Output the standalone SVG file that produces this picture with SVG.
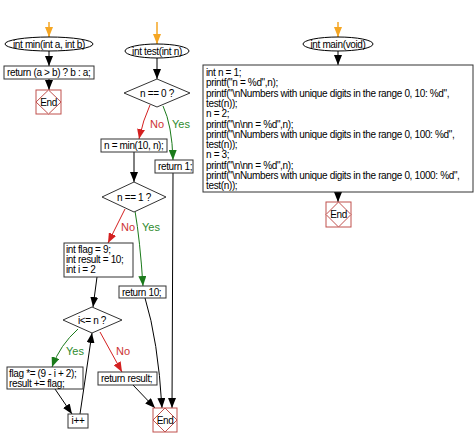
<svg xmlns="http://www.w3.org/2000/svg" width="474" height="444" viewBox="0 0 474 444">
<defs>
<style>
text{font-family:"Liberation Sans",Arial,sans-serif;font-size:10px;letter-spacing:-0.35px;fill:#000}
.c{text-anchor:middle}
.box{fill:#fff;stroke:#333;stroke-width:1}
.ell{fill:#fff;stroke:#000;stroke-width:1}
.dia{fill:#fff;stroke:#333;stroke-width:1}
.endb{fill:#fff;stroke:#c0504d;stroke-width:1}
.e{fill:none;stroke:#000;stroke-width:1}
.r{fill:none;stroke:#d42020;stroke-width:1}
.g{fill:none;stroke:#1a7a1a;stroke-width:1}
.o{fill:none;stroke:#f5a623;stroke-width:1.5}
.lbl{font-size:11px;letter-spacing:0}
.no{fill:#cc3333}
.yes{fill:#2e8b2e}
</style>
<marker id="ab" markerUnits="userSpaceOnUse" markerWidth="10" markerHeight="8" refX="10" refY="4" orient="auto"><path d="M0,0L10,4L0,8z" fill="#000"/></marker>
<marker id="ar" markerUnits="userSpaceOnUse" markerWidth="10" markerHeight="8" refX="10" refY="4" orient="auto"><path d="M0,0L10,4L0,8z" fill="#d42020"/></marker>
<marker id="ag" markerUnits="userSpaceOnUse" markerWidth="10" markerHeight="8" refX="10" refY="4" orient="auto"><path d="M0,0L10,4L0,8z" fill="#1a7a1a"/></marker>
<marker id="ao" markerUnits="userSpaceOnUse" markerWidth="10" markerHeight="8" refX="10" refY="4" orient="auto"><path d="M0,0L10,4L0,8z" fill="#f5a623"/></marker>
</defs>
<g id="connectors">
<path class="o" d="M49,22L49,37" marker-end="url(#ao)"/>
<path class="o" d="M157,22L157,44" marker-end="url(#ao)"/>
<path class="o" d="M338,22L338,37" marker-end="url(#ao)"/>
<path class="e" d="M49,51L49,66" marker-end="url(#ab)"/>
<path class="e" d="M49,79L49,90" marker-end="url(#ab)"/>
<path class="e" d="M157,58L157,79" marker-end="url(#ab)"/>
<path class="r" d="M150,105Q143,120 139,139" marker-end="url(#ar)"/>
<path class="g" d="M163,106Q172,125 173,160" marker-end="url(#ag)"/>
<path class="e" d="M134,152L134,182" marker-end="url(#ab)"/>
<path class="r" d="M125,209L108,243" marker-end="url(#ar)"/>
<path class="g" d="M135,211Q140,240 143,286" marker-end="url(#ag)"/>
<path class="e" d="M97,277L93,307" marker-end="url(#ab)"/>
<path class="g" d="M78,329Q60,345 52,367" marker-end="url(#ag)"/>
<path class="r" d="M100,332L122,372" marker-end="url(#ar)"/>
<path class="e" d="M55,389L72,414" marker-end="url(#ab)"/>
<path class="e" d="M80,414L92,333" marker-end="url(#ab)"/>
<path class="e" d="M133,385L155,408" marker-end="url(#ab)"/>
<path class="e" d="M145,298Q158,340 162,408" marker-end="url(#ab)"/>
<path class="e" d="M173,173L172,408" marker-end="url(#ab)"/>
<path class="e" d="M338,51L338,65" marker-end="url(#ab)"/>
<path class="e" d="M338,192L338,202" marker-end="url(#ab)"/>
<text class="c lbl no" x="157" y="128">No</text>
<text class="c lbl yes" x="181" y="128">Yes</text>
<text class="c lbl no" x="128" y="231">No</text>
<text class="c lbl yes" x="151" y="231">Yes</text>
<text class="c lbl yes" x="75" y="355">Yes</text>
<text class="c lbl no" x="123" y="355">No</text>
</g>
<g id="min_start"><ellipse class="ell" cx="49" cy="44" rx="44" ry="7"/><text class="c" x="49" y="48">int min(int a, int b)</text></g>
<g id="min_return"><rect class="box" x="4" y="66" width="90" height="13"/><text x="7" y="76">return (a &gt; b) ? b : a;</text></g>
<g id="min_end"><rect class="endb" x="36" y="90" width="25" height="24"/><path class="endb" d="M48.5,90L61,102L48.5,114L36,102z"/><text class="c" x="48.5" y="106">End</text></g>

<g id="test_start"><ellipse class="ell" cx="157" cy="51" rx="32" ry="7"/><text class="c" x="157" y="55">int test(int n)</text></g>
<g id="test_if0"><path class="dia" d="M157,79L190,93L157,107L124,93z"/><text class="c" x="157" y="97">n == 0 ?</text></g>
<g id="test_min"><rect class="box" x="101" y="139" width="66" height="13"/><text x="104" y="149">n = min(10, n);</text></g>
<g id="test_ret1"><rect class="box" x="155" y="160" width="38" height="13"/><text x="158" y="170">return 1;</text></g>
<g id="test_if1"><path class="dia" d="M134,182L166,197L134,212L102,197z"/><text class="c" x="134" y="201">n == 1 ?</text></g>
<g id="test_init"><rect class="box" x="64" y="243" width="69" height="34"/><text x="66" y="253">int flag = 9;</text><text x="66" y="263">int result = 10;</text><text x="66" y="273">int i = 2</text></g>
<g id="test_ret10"><rect class="box" x="119" y="286" width="47" height="12"/><text x="122" y="295.5">return 10;</text></g>
<g id="test_loop"><path class="dia" d="M92,307L122,320L92,333L63,320z"/><text class="c" x="92" y="324">i&lt;= n ?</text></g>
<g id="test_body"><rect class="box" x="7" y="367" width="76" height="22"/><text x="9" y="377">flag *= (9 - i + 2);</text><text x="9" y="387">result += flag;</text></g>
<g id="test_inc"><rect class="box" x="68" y="414" width="20" height="14"/><text class="c" x="78" y="424">i++</text></g>
<g id="test_retres"><rect class="box" x="98" y="372" width="59" height="13"/><text x="101" y="382">return result;</text></g>
<g id="test_end"><rect class="endb" x="153" y="408" width="24" height="24"/><path class="endb" d="M165,408L177,420L165,432L153,420z"/><text class="c" x="165" y="424">End</text></g>

<g id="main_start"><ellipse class="ell" cx="338" cy="44" rx="35" ry="7"/><text class="c" x="338" y="48">int main(void)</text></g>
<g id="main_body"><rect class="box" x="203" y="65" width="270" height="127"/>
<text x="206" y="76">int n = 1;</text>
<text x="206" y="86.3">printf("n = %d",n);</text>
<text x="206" y="96.6">printf("\nNumbers with unique digits in the range 0, 10: %d",</text>
<text x="206" y="106.9">test(n));</text>
<text x="206" y="117.2">n = 2;</text>
<text x="206" y="127.5">printf("\n\nn = %d",n);</text>
<text x="206" y="137.8">printf("\nNumbers with unique digits in the range 0, 100: %d",</text>
<text x="206" y="148.1">test(n));</text>
<text x="206" y="158.4">n = 3;</text>
<text x="206" y="168.7">printf("\n\nn = %d",n);</text>
<text x="206" y="179">printf("\nNumbers with unique digits in the range 0, 1000: %d",</text>
<text x="206" y="189.3">test(n));</text>
</g>
<g id="main_end"><rect class="endb" x="326" y="202" width="25" height="25"/><path class="endb" d="M338.5,202L351,214.5L338.5,227L326,214.5z"/><text class="c" x="338.5" y="218">End</text></g>
</svg>
